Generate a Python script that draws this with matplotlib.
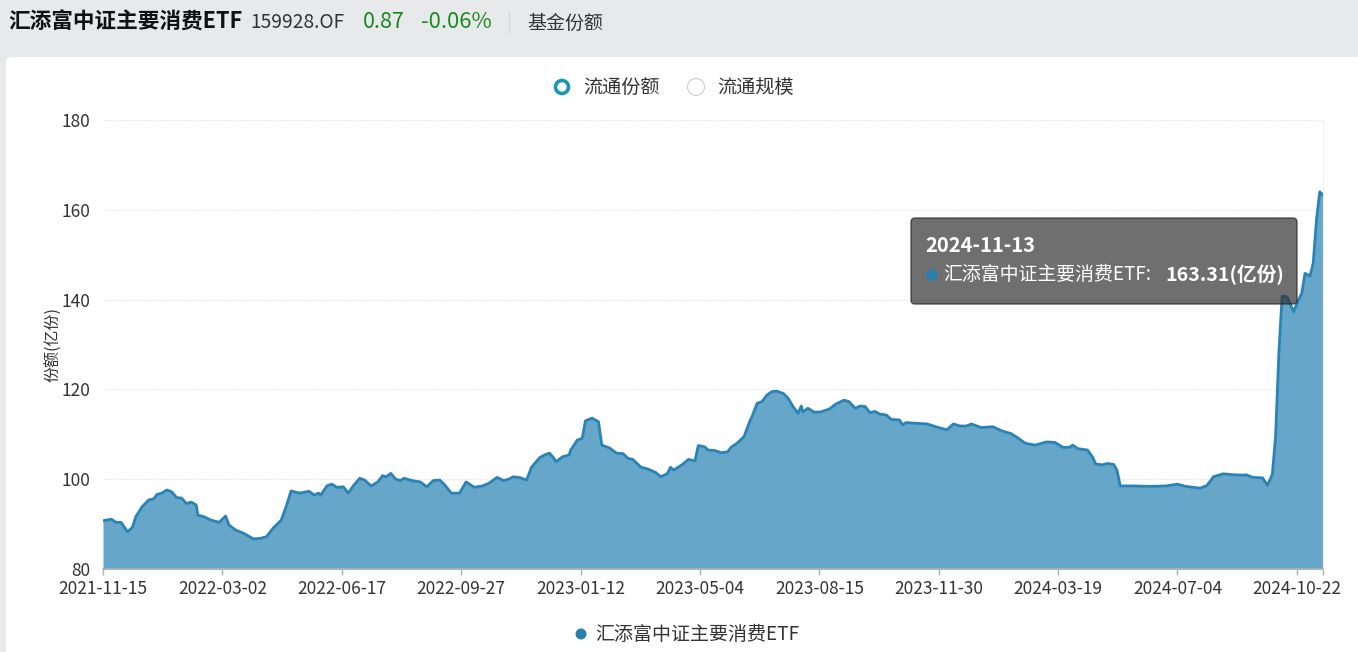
import numpy as np
import matplotlib
matplotlib.use('Agg')
import matplotlib.pyplot as plt
from matplotlib.patches import FancyBboxPatch, Circle
from matplotlib.lines import Line2D

plt.rcParams['font.family'] = ['Noto Sans CJK SC', 'DejaVu Sans']

W, H = 1358, 652

# trading-day index (0 = 2021-11-15) and fund shares (亿份)
days = [0, 5, 8, 11, 15, 18, 20, 24, 28, 31, 33, 36, 39, 42, 45, 48, 51, 54, 57, 58,
        62, 66, 71, 75, 77, 81, 86, 92, 96, 100, 104, 109, 112, 115, 120, 126, 129, 132, 133, 137,
        140, 143, 147, 150, 153, 157, 160, 164, 168, 171, 173, 176, 179, 182, 184, 189, 194, 198, 202, 206,
        209, 213, 218, 222, 227, 232, 236, 241, 245, 248, 251, 255, 259, 262, 267, 270, 273, 275, 277, 281,
        285, 286, 290, 293, 295, 299, 303, 305, 310, 314, 318, 321, 324, 329, 333, 338, 341, 345, 347, 349,
        354, 358, 362, 364, 368, 370, 374, 378, 382, 384, 388, 392, 395, 397, 400, 403, 406, 409, 412, 416,
        419, 422, 425, 427, 428, 431, 435, 439, 444, 448, 453, 456, 460, 463, 466, 469, 472, 475, 479, 482,
        487, 489, 491, 498, 504, 510, 516, 520, 524, 528, 531, 534, 537, 544, 550, 555, 559, 564, 570, 577,
        582, 587, 591, 593, 596, 602, 605, 607, 611, 614, 618, 620, 622, 630, 640, 650, 657, 662, 671, 675,
        679, 685, 691, 697, 699, 703, 709, 712, 715, 717, 719, 721, 724, 728, 731, 733, 735, 738, 740, 742,
        744, 746]
shares = [90.75, 91.1, 90.4, 90.4, 88.3, 89.3, 91.6, 93.9, 95.4, 95.6, 96.6, 96.9, 97.6, 97.2, 95.9, 95.8, 94.6, 94.9, 94.25, 92.0,
          91.6, 90.9, 90.4, 91.8, 89.8, 88.7, 87.95, 86.7, 86.8, 87.2, 89.1, 90.9, 93.9, 97.4, 96.9, 97.3, 96.5, 96.9, 96.4, 98.55,
          98.9, 98.2, 98.3, 96.9, 98.5, 100.2, 99.8, 98.5, 99.4, 100.8, 100.5, 101.3, 100.0, 99.7, 100.2, 99.7, 99.4, 98.3, 99.7, 99.8,
          98.7, 96.9, 96.9, 99.4, 98.2, 98.5, 99.1, 100.4, 99.7, 100.0, 100.55, 100.35, 99.8, 102.65, 104.8, 105.4, 105.8, 105.0, 103.9, 105.0,
          105.4, 106.5, 108.7, 109.1, 113.0, 113.6, 112.8, 107.6, 106.9, 105.8, 105.7, 104.65, 104.4, 102.65, 102.3, 101.5, 100.55, 101.2, 102.65, 102.05,
          103.2, 104.4, 104.1, 107.5, 107.2, 106.5, 106.4, 105.9, 106.1, 107.1, 108.1, 109.5, 112.45, 114.1, 116.9, 117.3, 118.75, 119.5, 119.6, 119.1,
          118.0, 116.15, 114.7, 116.3, 115.0, 115.8, 114.9, 115.0, 115.6, 116.7, 117.6, 117.3, 115.8, 116.3, 116.2, 114.8, 115.1, 114.5, 114.3, 113.3,
          113.2, 112.1, 112.6, 112.45, 112.3, 111.6, 111.0, 112.3, 111.85, 111.85, 112.3, 111.9, 111.5, 111.7, 110.7, 110.2, 109.3, 108.0, 107.6, 108.3,
          108.2, 107.1, 107.1, 107.6, 106.8, 106.5, 105.0, 103.4, 103.2, 103.5, 103.3, 102.05, 98.5, 98.5, 98.4, 98.5, 98.9, 98.4, 98.0, 98.6,
          100.55, 101.2, 101.0, 100.9, 101.0, 100.4, 100.3, 98.7, 101.0, 109.5, 128.0, 140.8, 140.6, 137.3, 139.9, 141.4, 145.85, 145.25, 148.1, 157.7,
          164.0, 163.31]

tick_days = [0, 73, 146, 219, 292, 365, 438, 511, 584, 657, 730]
tick_labels = ['2021-11-15', '2022-03-02', '2022-06-17', '2022-09-27', '2023-01-12', '2023-05-04',
               '2023-08-15', '2023-11-30', '2024-03-19', '2024-07-04', '2024-10-22']
y_ticks = [80, 100, 120, 140, 160, 180]
last_day = 746

name = '汇添富中证主要消费ETF'
line_c = '#2a83b6'
fill_c = '#66a6c9'


def fx(x):
    return x / W


def fy(y):
    return 1 - y / H


fig = plt.figure(figsize=(W / 100, H / 100), dpi=100)
fig.patch.set_facecolor('#e8e9eb')

# white card
card = FancyBboxPatch((6 / 100, -10 / 100), (W - 6) / 100 + 0.2, (H - 57 + 10) / 100,
                      boxstyle='round,pad=0,rounding_size=0.06', transform=fig.dpi_scale_trans,
                      facecolor='white', edgecolor='none', zorder=-10)
fig.patches.append(card)

ax = fig.add_axes([fx(103), 83 / H, (1323 - 103) / W, 449 / H])
ax.set_facecolor('none')
ax.fill_between(days, shares, 80, color=fill_c, linewidth=0, zorder=2)
ax.plot(days, shares, color=line_c, lw=2.0, zorder=3, solid_joinstyle='round')
ax.set_xlim(0, last_day)
ax.set_ylim(80, 180)
ax.set_yticks(y_ticks)
ax.set_xticks(tick_days + [last_day])
ax.set_xticklabels(tick_labels + [''])
ax.grid(axis='y', color='#e3e6ee', linestyle=(0, (1.5, 1.5)), linewidth=0.8, zorder=1)
for s in ['top', 'left']:
    ax.spines[s].set_visible(False)
ax.spines['right'].set_color('#f0f0f0')
ax.spines['bottom'].set_color('#b0b0b0')
ax.spines['bottom'].set_linewidth(1.2)
ax.tick_params(axis='x', direction='out', length=4, width=1, color='#b0b0b0',
               labelsize=12.5, labelcolor='#333333', pad=4)
ax.tick_params(axis='y', length=0, labelsize=12.5, labelcolor='#333333', pad=9)
ax.set_ylabel('份额(亿份)', fontsize=11.5, color='#333333')
ax.yaxis.set_label_coords(-0.0336, 0.5)

# header
fig.text(fx(8), fy(22), name, fontsize=15.6, fontweight='bold', color='#111111', va='center')
fig.text(fx(250), fy(23), '159928.OF', fontsize=13.8, color='#333333', va='center')
fig.text(fx(363), fy(22), '0.87', fontsize=15.5, color='#16891b', va='center')
fig.text(fx(421), fy(22), '-0.06%', fontsize=15.8, color='#16891b', va='center')
fig.add_artist(Line2D([fx(509), fx(509)], [fy(12), fy(33)], color='#d6d6d6', lw=1))
fig.text(fx(527), fy(23), '基金份额', fontsize=13.7, color='#333333', va='center')

# top legend (radio style)
fig.patches.append(Circle((562 / 100, (H - 87) / 100), 0.065, transform=fig.dpi_scale_trans,
                          facecolor='white', edgecolor='#1696b4', lw=2.6, zorder=5))
fig.text(fx(583), fy(87), '流通份额', fontsize=13.8, color='#333333', va='center')
fig.patches.append(Circle((696 / 100, (H - 87) / 100), 0.085, transform=fig.dpi_scale_trans,
                          facecolor='white', edgecolor='#cccccc', lw=0.8, zorder=5))
fig.text(fx(717), fy(87), '流通规模', fontsize=13.8, color='#333333', va='center')

# bottom legend
fig.patches.append(Circle((581 / 100, (H - 634) / 100), 0.055, transform=fig.dpi_scale_trans,
                          facecolor='#2a7fae', edgecolor='none', zorder=5))
fig.text(fx(595), fy(634), name, fontsize=13.7, color='#333333', va='center')

# tooltip
tip = FancyBboxPatch((911 / 100, (H - 304) / 100), (1297 - 911) / 100, (304 - 218) / 100,
                     boxstyle='round,pad=0,rounding_size=0.04', transform=fig.dpi_scale_trans,
                     facecolor='#323232', alpha=0.7, edgecolor='#222222', lw=1, zorder=10)
fig.patches.append(tip)
fig.text(fx(925), fy(246), '2024-11-13', fontsize=14.5, fontweight='bold', color='white',
         va='center', zorder=11)
fig.patches.append(Circle((932 / 100, (H - 275) / 100), 0.058, transform=fig.dpi_scale_trans,
                          facecolor='#2a7fae', edgecolor='none', zorder=11))
fig.text(fx(943), fy(275), name + ':', fontsize=13.6, color='white', va='center', zorder=11)
fig.text(fx(1165), fy(275), '%.2f(亿份)' % shares[-1], fontsize=14.2, fontweight='bold',
         color='white', va='center', zorder=11)

fig.savefig('out.png', dpi=100, facecolor=fig.get_facecolor())
